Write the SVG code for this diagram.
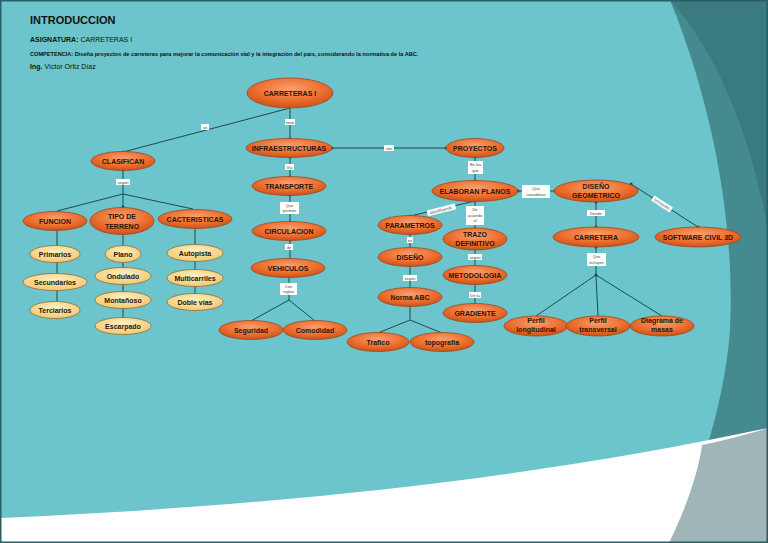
<svg xmlns="http://www.w3.org/2000/svg" width="768" height="543" viewBox="0 0 768 543">
<defs>
<radialGradient id="og" cx="50%" cy="35%" r="65%"><stop offset="0" stop-color="#f7a070"/><stop offset="0.6" stop-color="#ee6e2e"/><stop offset="1" stop-color="#c9521a"/></radialGradient>
<radialGradient id="yg" cx="50%" cy="35%" r="65%"><stop offset="0" stop-color="#fdf0c0"/><stop offset="1" stop-color="#f0c872"/></radialGradient>
<marker id="d" viewBox="0 0 4 4" refX="2" refY="2" markerWidth="4" markerHeight="4"><circle cx="2" cy="2" r="1.5" fill="#1d4a4e"/></marker>
</defs>
<style>
.o{fill:url(#og);stroke:#9a4a20;stroke-width:0.8}
.y{fill:url(#yg);stroke:#9a6a30;stroke-width:0.8}
.t{font-family:"Liberation Sans",Arial,sans-serif;font-weight:bold;font-size:7px;fill:#2a1608;text-anchor:middle}
.c line,.c path{stroke:#1d4a4e;stroke-width:1;fill:none}
.lb rect{fill:#fff}
.lb text{font-family:"Liberation Sans",Arial,sans-serif;font-size:4px;fill:#444;text-anchor:middle}
.h{font-family:"Liberation Sans",Arial,sans-serif;fill:#111}
</style>
<rect width="768" height="543" fill="#6cc5cc"/>
<path d="M670,0 C715,110 735,230 730,330 C725,400 700,480 670,543 L768,543 L768,0 Z" fill="#448a8e"/>
<path d="M670,0 L768,0 L768,230 C750,130 715,50 670,0Z" fill="#2f6c70" opacity="0.5"/>
<path d="M0,518 C300,505 550,475 768,428 L768,543 L0,543 Z" fill="#ffffff"/>
<path d="M702,445 C735,438 755,432 768,428 L768,543 L669,543 C685,510 698,475 702,445 Z" fill="#9fb5b8"/>
<rect x="0.5" y="0.5" width="767" height="542" fill="none" stroke="#2b5f63" stroke-width="2"/>
<text class="h" x="30" y="24" font-size="11" font-weight="bold">INTRODUCCION</text>
<text class="h" x="30" y="42" font-size="7" font-weight="bold">ASIGNATURA: <tspan font-weight="normal">CARRETERAS I</tspan></text>
<text class="h" x="30" y="56" font-size="5.6" font-weight="bold">COMPETENCIA: <tspan>Diseña proyectos de carreteras para mejorar la comunicación vial y la integración del país, considerando la normativa de la ABC.</tspan></text>
<text class="h" x="30" y="69" font-size="7" font-weight="bold">Ing. <tspan font-weight="normal">Víctor Ortiz Díaz</tspan></text>
<g class="c" id="connectors">
<line x1="290" y1="108" x2="123" y2="152" marker-end="url(#d)"/>
<line x1="290" y1="108" x2="290" y2="139" marker-end="url(#d)"/>
<line x1="332" y1="148" x2="446" y2="148" marker-start="url(#d)" marker-end="url(#d)"/>
<line x1="290" y1="157" x2="290" y2="177" marker-start="url(#d)" marker-end="url(#d)"/>
<line x1="290" y1="195" x2="290" y2="222" marker-start="url(#d)" marker-end="url(#d)"/>
<line x1="290" y1="240" x2="290" y2="259" marker-start="url(#d)"/>
<path d="M289,277 L289,300 L251,321 M289,300 L315,321"/>
<line x1="123" y1="170" x2="123" y2="194" marker-start="url(#d)"/>
<line x1="123" y1="194" x2="123" y2="207" marker-end="url(#d)"/>
<path d="M123,194 L57,211 M123,194 L193,209"/>
<line x1="57" y1="230" x2="57" y2="301"/>
<line x1="123" y1="234" x2="123" y2="318"/>
<line x1="195" y1="228" x2="195" y2="294"/>
<line x1="475" y1="157" x2="475" y2="181" marker-start="url(#d)" marker-end="url(#d)"/>
<line x1="518" y1="191" x2="555" y2="191" marker-start="url(#d)" marker-end="url(#d)"/>
<line x1="475" y1="201" x2="410" y2="216" marker-start="url(#d)" marker-end="url(#d)"/>
<line x1="475" y1="201" x2="475" y2="228"/>
<line x1="410" y1="234" x2="410" y2="248"/>
<line x1="410" y1="266" x2="410" y2="288"/>
<path d="M410,306 L410,320 L378,333 M410,320 L442,333"/>
<line x1="475" y1="250" x2="475" y2="304"/>
<line x1="596" y1="202" x2="596" y2="227" marker-start="url(#d)" marker-end="url(#d)"/>
<line x1="631" y1="184" x2="698" y2="227" marker-start="url(#d)" marker-end="url(#d)"/>
<line x1="596" y1="247" x2="596" y2="275" marker-start="url(#d)" marker-end="url(#d)"/>
<path d="M596,275 L536,316 M596,275 L598,316 M596,275 L662,316"/>
</g>
<g class="lb" id="labels">
<rect x="201" y="124" width="8" height="6"/><text x="205" y="128.5">se</text>
<rect x="285" y="119" width="10" height="6"/><text x="290" y="123.5">tiene</text>
<rect x="384" y="145" width="10" height="6"/><text x="389" y="149.5">son</text>
<rect x="285" y="164" width="9" height="6"/><text x="289.5" y="168.5">Vía</text>
<rect x="280" y="202" width="19" height="12"/><text x="289.5" y="207">Que</text><text x="289.5" y="212">permite</text>
<rect x="285" y="244" width="8" height="6"/><text x="289" y="248.5">de</text>
<rect x="280" y="283" width="17" height="12"/><text x="288.5" y="288">Con</text><text x="288.5" y="293">reglas</text>
<rect x="116" y="179" width="14" height="6"/><text x="123" y="183.5">según</text>
<rect x="468" y="161" width="15" height="13"/><text x="475.5" y="166">En los</text><text x="475.5" y="172">que</text>
<rect x="522" y="185" width="28" height="13"/><text x="536" y="190">Que</text><text x="536" y="195.5">consideran</text>
<rect x="427" y="207" width="29" height="6" transform="rotate(-14 441 210)"/><text x="441" y="211.5" transform="rotate(-14 441 210)">identificando</text>
<rect x="466" y="206" width="18" height="19"/><text x="475" y="211">De</text><text x="475" y="216.5">acuerdo</text><text x="475" y="222">al</text>
<rect x="407" y="237" width="6" height="6"/><text x="410" y="241.5">es</text>
<rect x="403" y="275" width="14" height="6"/><text x="410" y="279.5">según</text>
<rect x="468" y="254" width="14" height="6"/><text x="475" y="258.5">según</text>
<rect x="469" y="292" width="12" height="6"/><text x="475" y="296.5">De la</text>
<rect x="587" y="210" width="18" height="6"/><text x="596" y="214.5">Desde</text>
<rect x="651" y="201" width="22" height="6" transform="rotate(33 662 204)"/><text x="662" y="205.5" transform="rotate(33 662 204)">Utilizando</text>
<rect x="587" y="253" width="19" height="13"/><text x="596.5" y="258">Que</text><text x="596.5" y="263.5">incluyen</text>
</g>
<g id="n-carreteras"><ellipse class="o" cx="290" cy="93" rx="43" ry="15"/><text class="t" x="290" y="96" font-size="8.5">CARRETERAS I</text></g>
<g id="n-clasifican"><ellipse class="o" cx="123" cy="161" rx="32" ry="9.5"/><text class="t" x="123" y="163.5">CLASIFICAN</text></g>
<g id="n-infra"><ellipse class="o" cx="289" cy="148" rx="43" ry="9.5"/><text class="t" x="289" y="150.5" font-size="6.5">INFRAESTRUCTURAS</text></g>
<g id="n-proyectos"><ellipse class="o" cx="475" cy="148" rx="29" ry="9.5"/><text class="t" x="475" y="150.5" font-size="6.5">PROYECTOS</text></g>
<g id="n-transporte"><ellipse class="o" cx="289" cy="186" rx="37" ry="9.5"/><text class="t" x="289" y="188.5">TRANSPORTE</text></g>
<g id="n-circulacion"><ellipse class="o" cx="289" cy="231" rx="37" ry="9.5"/><text class="t" x="289" y="233.5">CIRCULACION</text></g>
<g id="n-vehiculos"><ellipse class="o" cx="288" cy="268" rx="37" ry="9.5"/><text class="t" x="288" y="270.5">VEHICULOS</text></g>
<g id="n-seguridad"><ellipse class="o" cx="251" cy="330" rx="32" ry="9.5"/><text class="t" x="251" y="332.5">Seguridad</text></g>
<g id="n-comodidad"><ellipse class="o" cx="315" cy="330" rx="32" ry="9.5"/><text class="t" x="315" y="332.5">Comodidad</text></g>
<g id="n-funcion"><ellipse class="o" cx="55" cy="221" rx="32" ry="9.5"/><text class="t" x="55" y="223.5">FUNCION</text></g>
<g id="n-tipo"><ellipse class="o" cx="122" cy="221" rx="32" ry="13.5"/><text class="t" x="122" y="218.5">TIPO DE</text><text class="t" x="122" y="228.5">TERRENO</text></g>
<g id="n-caract"><ellipse class="o" cx="195" cy="219" rx="37" ry="9.5"/><text class="t" x="195" y="221.5">CACTERISTICAS</text></g>
<g id="n-primarios"><ellipse class="y" cx="55" cy="254" rx="25" ry="8.5"/><text class="t" x="55" y="256.5">Primarios</text></g>
<g id="n-secundarios"><ellipse class="y" cx="55" cy="282" rx="32" ry="8.5"/><text class="t" x="55" y="284.5">Secundarios</text></g>
<g id="n-terciarios"><ellipse class="y" cx="55" cy="310" rx="25" ry="8.5"/><text class="t" x="55" y="312.5">Terciarios</text></g>
<g id="n-plano"><ellipse class="y" cx="123" cy="254" rx="18" ry="8.5"/><text class="t" x="123" y="256.5">Plano</text></g>
<g id="n-ondulado"><ellipse class="y" cx="123" cy="276" rx="28" ry="8.5"/><text class="t" x="123" y="278.5">Ondulado</text></g>
<g id="n-montanoso"><ellipse class="y" cx="123" cy="300" rx="28" ry="8.5"/><text class="t" x="123" y="302.5">Montañoso</text></g>
<g id="n-escarpado"><ellipse class="y" cx="123" cy="326" rx="28" ry="8.5"/><text class="t" x="123" y="328.5">Escarpado</text></g>
<g id="n-autopista"><ellipse class="y" cx="195" cy="253" rx="28" ry="8.5"/><text class="t" x="195" y="255.5">Autopista</text></g>
<g id="n-multi"><ellipse class="y" cx="195" cy="278" rx="28" ry="8.5"/><text class="t" x="195" y="280.5">Multicarriles</text></g>
<g id="n-doble"><ellipse class="y" cx="195" cy="302" rx="28" ry="8.5"/><text class="t" x="195" y="304.5">Doble vías</text></g>
<g id="n-elaboran"><ellipse class="o" cx="475" cy="191" rx="43" ry="10.5"/><text class="t" x="475" y="193.5">ELABORAN PLANOS</text></g>
<g id="n-disgeo"><ellipse class="o" cx="596" cy="191" rx="42" ry="11"/><text class="t" x="596" y="188.5">DISEÑO</text><text class="t" x="596" y="197.5">GEOMETRICO</text></g>
<g id="n-parametros"><ellipse class="o" cx="410" cy="225" rx="32" ry="9.5"/><text class="t" x="410" y="227.5">PARAMETROS</text></g>
<g id="n-trazo"><ellipse class="o" cx="475" cy="239" rx="32" ry="11"/><text class="t" x="475" y="236.5">TRAZO</text><text class="t" x="475" y="245.5">DEFINITIVO</text></g>
<g id="n-diseno"><ellipse class="o" cx="410" cy="257" rx="32" ry="9.5"/><text class="t" x="410" y="259.5">DISEÑO</text></g>
<g id="n-metodologia"><ellipse class="o" cx="475" cy="275" rx="32" ry="9.5"/><text class="t" x="475" y="277.5">METODOLOGIA</text></g>
<g id="n-norma"><ellipse class="o" cx="410" cy="297" rx="32" ry="9.5"/><text class="t" x="410" y="299.5">Norma ABC</text></g>
<g id="n-gradiente"><ellipse class="o" cx="475" cy="313" rx="32" ry="9.5"/><text class="t" x="475" y="315.5">GRADIENTE</text></g>
<g id="n-trafico"><ellipse class="o" cx="378" cy="342" rx="31" ry="9.5"/><text class="t" x="378" y="344.5">Trafico</text></g>
<g id="n-topografia"><ellipse class="o" cx="442" cy="342" rx="32" ry="9.5"/><text class="t" x="442" y="344.5">topografia</text></g>
<g id="n-carretera"><ellipse class="o" cx="596" cy="237" rx="43" ry="10"/><text class="t" x="596" y="239.5">CARRETERA</text></g>
<g id="n-software"><ellipse class="o" cx="698" cy="237" rx="43" ry="10"/><text class="t" x="698" y="239.5">SOFTWARE CIVIL 3D</text></g>
<g id="n-perfil-l"><ellipse class="o" cx="536" cy="326" rx="32" ry="10"/><text class="t" x="536" y="323">Perfil</text><text class="t" x="536" y="332">longitudinal</text></g>
<g id="n-perfil-t"><ellipse class="o" cx="598" cy="326" rx="32" ry="10"/><text class="t" x="598" y="323">Perfil</text><text class="t" x="598" y="332">transversal</text></g>
<g id="n-masas"><ellipse class="o" cx="662" cy="326" rx="32" ry="10"/><text class="t" x="662" y="323">Diagrama de</text><text class="t" x="662" y="332">masas</text></g>
</svg>
